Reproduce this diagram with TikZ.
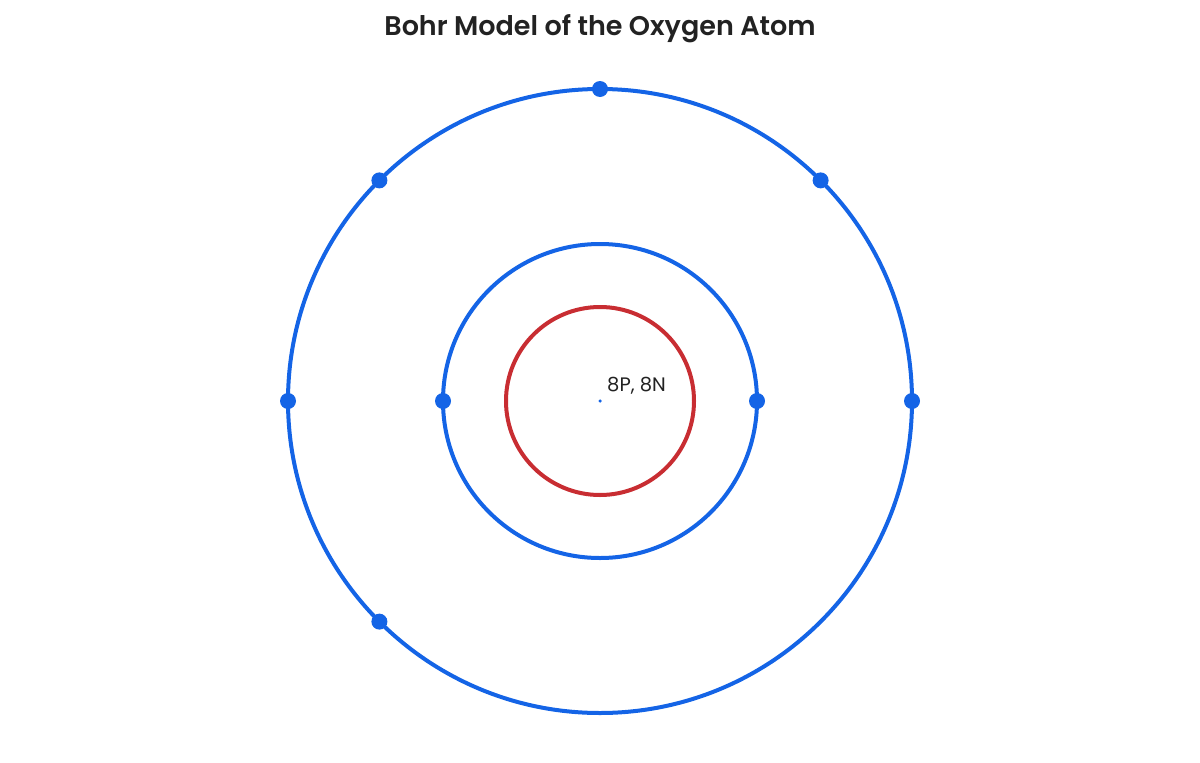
\documentclass[tikz,border=0pt]{standalone}
\usepackage{fontspec}
\setmainfont{Poppins}[BoldFont={Poppins SemiBold}]
\usetikzlibrary{calc}
\definecolor{orb}{RGB}{20,100,230}
\definecolor{nuc}{RGB}{200,45,50}
\definecolor{txt}{RGB}{34,34,34}
\begin{document}
\begin{tikzpicture}[x=1pt,y=-1pt,
  orbit/.style={draw=orb,line width=4pt},
  nucleus/.style={draw=nuc,line width=4pt},
  electron/.style={circle,fill=orb,inner sep=0pt,minimum size=16pt}]
\useasboundingbox (0,0) rectangle (1200,763);
\coordinate (c) at (600,401);
\node[text=txt,font=\fontsize{27}{30}\selectfont\bfseries] (title) at (600,29) {Bohr Model of the Oxygen Atom};
\draw[orbit] (c) circle[radius=312];
\draw[orbit] (c) circle[radius=157];
\draw[nucleus] (c) circle[radius=94];
\node[circle,fill=orb,inner sep=0pt,minimum size=3.5pt] (core) at (c) {};
\node[anchor=south west,text=txt,font=\fontsize{19.5}{22}\selectfont,inner sep=0pt] (lbl) at (607,394) {8P, 8N};
\foreach \a [count=\i] in {0,-45,-90,-135,180,135}
  \node[electron] (o\i) at ($(c)+(\a:312)$) {};
\foreach \a [count=\i] in {0,180}
  \node[electron] (n\i) at ($(c)+(\a:157)$) {};
\end{tikzpicture}
\end{document}
